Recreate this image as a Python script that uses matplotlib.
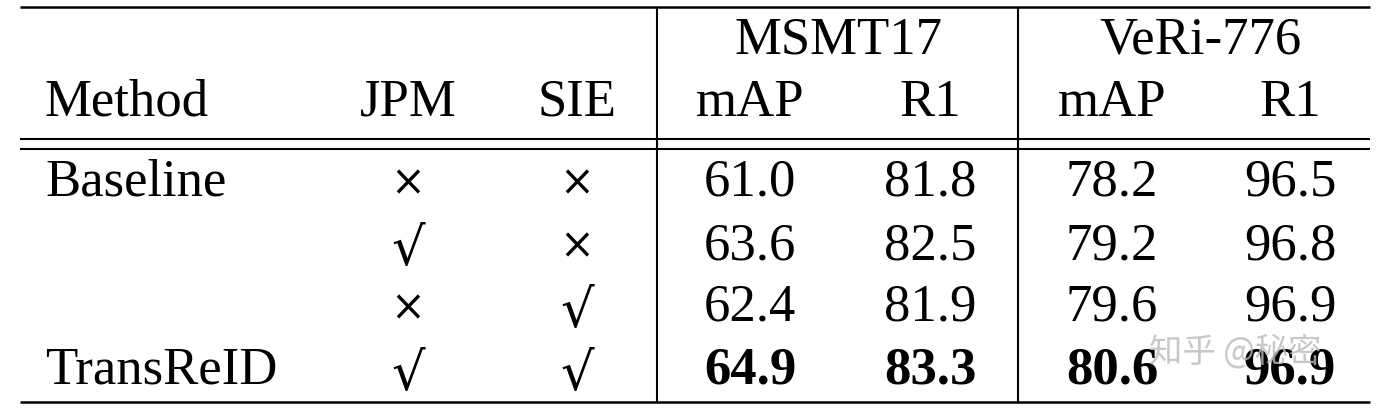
import matplotlib.pyplot as plt

methods = ["Baseline", "", "", "TransReID"]
jpm = [False, True, False, True]
sie = [False, False, True, True]
msmt_map = ["61.0", "63.6", "62.4", "64.9"]
msmt_r1 = ["81.8", "82.5", "81.9", "83.3"]
veri_map = ["78.2", "79.2", "79.6", "80.6"]
veri_r1 = ["96.5", "96.8", "96.9", "96.9"]
bold_row = 3

W, H = 1385, 410
fig = plt.figure(figsize=(W / 100, H / 100), dpi=100)
ax = fig.add_axes([0, 0, 1, 1])
ax.set_xlim(0, W)
ax.set_ylim(H, 0)
ax.axis("off")

font = dict(family="Liberation Serif", fontsize=38, va="center")

# rules
ax.hlines(8, 20, 1370, color="black", lw=1.8)
ax.hlines([140, 150], 20, 1370, color="black", lw=1.5)
ax.hlines(403, 20, 1370, color="black", lw=1.8)
ax.vlines([657, 1018], 8, 403, color="black", lw=1.5)

# header
ax.text(838, 40, "MSMT17", ha="center", **font)
ax.text(1200, 40, "VeRi-776", ha="center", **font)
hy = 103
ax.text(45, hy, "Method", ha="left", **font)
for x, s in [(408, "JPM"), (577, "SIE"), (750, "mAP"), (930, "R1"),
             (1112, "mAP"), (1290, "R1")]:
    ax.text(x, hy, s, ha="center", **font)

row_y = [183, 246, 308, 371]
for i, y in enumerate(row_y):
    ax.text(45, y, methods[i], ha="left", **font)
    for x, flag in [(408, jpm[i]), (577, sie[i])]:
        if flag:
            ax.text(x, y + 4, "\u221a", ha="center", family="DejaVu Serif",
                    fontsize=38, va="center")
        else:
            ax.text(x, y, "\u00d7", ha="center", family="DejaVu Serif",
                    fontsize=30, va="center")
    w = "bold" if i == bold_row else "normal"
    for x, col in [(750, msmt_map), (930, msmt_r1), (1112, veri_map), (1290, veri_r1)]:
        ax.text(x, y, col[i], ha="center", fontweight=w, **font)

ax.text(1235, 352, "知乎 @秘密", ha="center", va="center", fontsize=24,
        family=["Noto Sans CJK SC", "DejaVu Sans"], color="#bbbbbb", alpha=0.8)

fig.savefig("out.png", dpi=100)
